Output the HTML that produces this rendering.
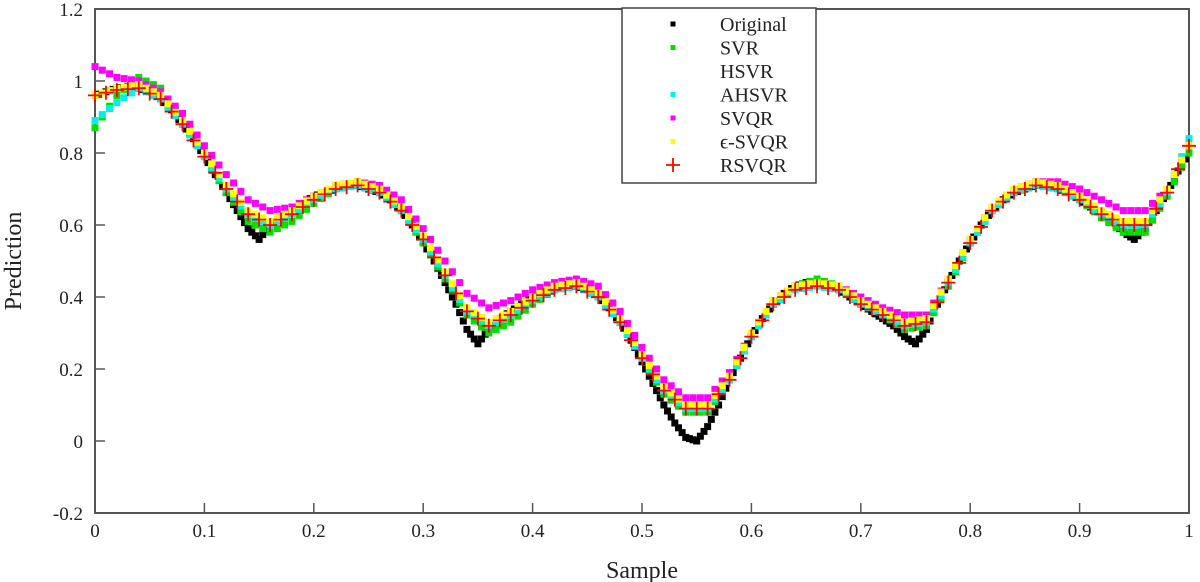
<!DOCTYPE html>
<html><head><meta charset="utf-8"><style>
body{margin:0;background:#fff;}
svg{display:block;font-family:"Liberation Serif",serif;}
svg text{font-family:"Liberation Serif",serif;}
</style></head><body>
<svg id="chart" width="1200" height="582" viewBox="0 0 1200 582">
<g id="axes"></g>
<g id="marks"></g>
<g id="legend"></g>
<text x="642" y="578" font-size="24" text-anchor="middle" fill="#222">Sample</text>
<text transform="translate(21,261) rotate(-90)" font-size="24" text-anchor="middle" fill="#222">Prediction</text>
</svg>
<script>
const xTicks=[0,0.1,0.2,0.3,0.4,0.5,0.6,0.7,0.8,0.9,1];
const xTickLabels=["0","0.1","0.2","0.3","0.4","0.5","0.6","0.7","0.8","0.9","1"];
const yTicks=[-0.2,0,0.2,0.4,0.6,0.8,1,1.2];
const yTickLabels=["-0.2","0","0.2","0.4","0.6","0.8","1","1.2"];
const originalVals=[0.96,0.97,0.98,0.985,0.98,0.97,0.95,0.92,0.88,0.84,0.79,0.74,0.69,0.64,0.59,0.56,0.6,0.62,0.64,0.66,0.68,0.69,0.70,0.71,0.71,0.70,0.69,0.67,0.64,0.60,0.55,0.50,0.44,0.38,0.31,0.27,0.31,0.34,0.36,0.38,0.40,0.41,0.42,0.43,0.43,0.42,0.40,0.37,0.33,0.28,0.22,0.16,0.10,0.05,0.01,0.0,0.04,0.10,0.17,0.23,0.29,0.34,0.38,0.41,0.43,0.44,0.44,0.43,0.42,0.40,0.38,0.36,0.34,0.32,0.29,0.27,0.31,0.38,0.44,0.50,0.55,0.60,0.64,0.67,0.69,0.70,0.71,0.71,0.70,0.69,0.67,0.65,0.63,0.61,0.58,0.56,0.59,0.64,0.69,0.75,0.80];
const svrVals=[0.87,0.96,1.01,0.98,0.89,0.79,0.69,0.61,0.58,0.61,0.66,0.70,0.72,0.70,0.64,0.55,0.45,0.35,0.30,0.33,0.38,0.42,0.43,0.41,0.33,0.23,0.13,0.08,0.08,0.17,0.29,0.38,0.43,0.45,0.43,0.39,0.35,0.31,0.32,0.43,0.55,0.64,0.69,0.72,0.71,0.67,0.62,0.58,0.58,0.68,0.80];
const ahsvrVals=[0.89,0.94,0.98,0.95,0.88,0.79,0.70,0.63,0.60,0.63,0.67,0.70,0.71,0.69,0.64,0.56,0.46,0.36,0.32,0.35,0.39,0.42,0.43,0.40,0.33,0.23,0.14,0.09,0.09,0.17,0.29,0.38,0.42,0.43,0.42,0.38,0.35,0.32,0.33,0.44,0.55,0.64,0.69,0.71,0.70,0.67,0.63,0.60,0.60,0.69,0.84];
const svqrVals=[1.04,1.01,1.0,0.97,0.91,0.82,0.74,0.67,0.64,0.65,0.68,0.71,0.72,0.71,0.67,0.59,0.50,0.41,0.37,0.39,0.42,0.44,0.45,0.43,0.36,0.26,0.17,0.12,0.12,0.19,0.30,0.39,0.43,0.44,0.43,0.40,0.37,0.35,0.35,0.45,0.56,0.65,0.70,0.72,0.72,0.70,0.67,0.64,0.64,0.70,0.82];
const esvqrVals=[0.96,0.98,0.99,0.96,0.89,0.80,0.71,0.64,0.61,0.64,0.68,0.71,0.72,0.70,0.65,0.57,0.47,0.37,0.33,0.36,0.40,0.43,0.44,0.41,0.34,0.24,0.15,0.10,0.10,0.18,0.30,0.39,0.43,0.44,0.43,0.39,0.36,0.33,0.34,0.45,0.56,0.65,0.70,0.72,0.71,0.68,0.64,0.61,0.61,0.70,0.82];
const rsvqrVals=[0.96,0.975,0.98,0.95,0.88,0.79,0.70,0.63,0.60,0.63,0.67,0.70,0.71,0.69,0.64,0.56,0.46,0.36,0.32,0.35,0.39,0.42,0.43,0.40,0.33,0.23,0.14,0.09,0.09,0.17,0.29,0.38,0.42,0.43,0.42,0.38,0.35,0.32,0.33,0.44,0.55,0.64,0.69,0.71,0.70,0.67,0.63,0.60,0.60,0.69,0.82];
const legendLabels=["Original","SVR","HSVR","AHSVR","SVQR","\u03f5-SVQR","RSVQR"];

const NS="http://www.w3.org/2000/svg";
const X0=95,X1=1189,Y0=513,Y1=9;
function sx(v){return X0+(X1-X0)*v;}
function sy(v){return Y0-(Y0-Y1)*(v+0.2)/1.4;}
function mk(tag,attrs,parent){const e=document.createElementNS(NS,tag);for(const k in attrs)e.setAttribute(k,attrs[k]);parent.appendChild(e);return e;}
const axes=document.getElementById('axes'),marks=document.getElementById('marks'),legend=document.getElementById('legend');
let frame=mk('rect',{x:X0,y:Y1,width:X1-X0,height:Y0-Y1,fill:'none',stroke:'#555','stroke-width':2},axes);


xTicks.forEach((t,i)=>{
  let l=mk('line',{x1:sx(t),x2:sx(t),y1:Y0,y2:Y0-10,stroke:'#555','stroke-width':1.5},axes);
  
  
  let tx=mk('text',{x:sx(t),y:Y0+24,'font-size':19,'text-anchor':'middle',fill:'#222'},axes);
  tx.textContent=xTickLabels[i];
  
  
});
yTicks.forEach((t,i)=>{
  let l=mk('line',{x1:X0,x2:X0+10,y1:sy(t),y2:sy(t),stroke:'#555','stroke-width':1.5},axes);
  
  
  let tx=mk('text',{x:X0-12,y:sy(t)+7,'font-size':19,'text-anchor':'end',fill:'#222'},axes);
  tx.textContent=yTickLabels[i];
  
  
});
function sq(parent,x,y,c,s){return mk('rect',{x:x-s/2,y:y-s/2,width:s,height:s,fill:c},parent);}
function plus(parent,x,y,c){const g=mk('g',{},parent);mk('path',{d:`M${x-7},${y}H${x+7}M${x},${y-7}V${y+7}`,stroke:c,'stroke-width':1.8,fill:'none'},g);return g;}
function drawSeries(vals,color,name,kind){
  const g=mk('g',{},marks);
  
  
  const n=vals.length;
  const draw=kind==='plus'?(x,y)=>plus(g,x,y,color):(x,y)=>sq(g,x,y,color,7);
  vals.forEach((v,i)=>{
    const px=sx(i/(n-1)),py=sy(v);
    draw(px,py);
    if(i<n-1){
      const qx=sx((i+1)/(n-1)),qy=sy(vals[i+1]);
      const steps=kind==='plus'?2:3;
      for(let k=1;k<steps;k++){const f=k/steps;draw(px+(qx-px)*f,py+(qy-py)*f);}
    }
  });
}
drawSeries(originalVals,'#000','series-original','sq');
drawSeries(svrVals,'#00e000','series-svr','sq');
drawSeries(ahsvrVals,'#00f0f0','series-ahsvr','sq');
drawSeries(svqrVals,'#ff00ff','series-svqr','sq');
drawSeries(esvqrVals,'#ffff00','series-e-svqr','sq');
drawSeries(rsvqrVals,'#ff0000','series-rsvqr','plus');
let lb=mk('rect',{x:622,y:8,width:194,height:175,fill:'#fff',stroke:'#444','stroke-width':1.5},legend);


const lcol=['#000','#00e000',null,'#00f0f0','#ff00ff','#ffff00','#ff0000'];
legendLabels.forEach((lab,i)=>{
  const y=24+i*23.5;
  const g=mk('g',{},legend);
  
  
  if(i===6) plus(g,673,y,lcol[i]); else if(lcol[i]) sq(g,673,y,lcol[i],5);
  const t=mk('text',{x:720,y:y+7,'font-size':20,fill:'#222'},g);
  t.textContent=lab;
});
</script>
</body></html>
